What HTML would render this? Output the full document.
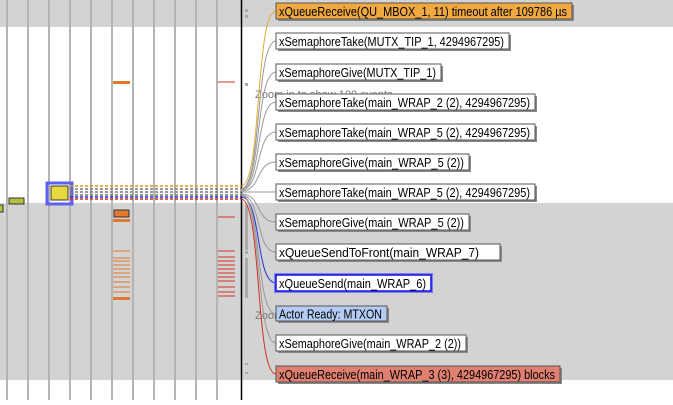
<!DOCTYPE html>
<html><head><style>
body{margin:0;width:673px;height:400px;overflow:hidden;background:#fff;font-family:"Liberation Sans",sans-serif}
</style></head><body>
<svg width="673" height="400" xmlns="http://www.w3.org/2000/svg" font-family="Liberation Sans, sans-serif">
<rect x="0" y="0" width="673" height="27" fill="#d3d3d3"/>
<rect x="0" y="203" width="673" height="177" fill="#d3d3d3"/>
<g stroke="#b4b4b4" stroke-width="2">
<line x1="7" y1="0" x2="7" y2="400"/><line x1="28" y1="0" x2="28" y2="400"/><line x1="49" y1="0" x2="49" y2="400"/><line x1="70" y1="0" x2="70" y2="400"/><line x1="91" y1="0" x2="91" y2="400"/><line x1="112" y1="0" x2="112" y2="400"/><line x1="133" y1="0" x2="133" y2="400"/><line x1="154" y1="0" x2="154" y2="400"/><line x1="175" y1="0" x2="175" y2="400"/><line x1="196" y1="0" x2="196" y2="400"/><line x1="217" y1="0" x2="217" y2="400"/>
</g>
<line x1="241.5" y1="0" x2="241.5" y2="400" stroke="#000" stroke-width="1.5"/>
<rect x="-1" y="205" width="4" height="7" fill="#b5c040" stroke="#333"/>
<rect x="9" y="198" width="15" height="6" fill="#b5c040" stroke="#333"/>
<rect x="47" y="183" width="25" height="21" fill="none" stroke="#6060f0" stroke-width="3"/>
<rect x="51" y="186" width="17" height="14" fill="#e8d840" stroke="#333"/>
<rect x="113" y="81" width="17" height="3" fill="#e07830"/>
<line x1="218" y1="82" x2="235" y2="82" stroke="#d03020"/>
<rect x="114" y="210" width="15" height="7" fill="#e07830" stroke="#333"/>
<rect x="113" y="219" width="17" height="3" fill="#e07830"/>
<line x1="218" y1="217" x2="235" y2="217" stroke="#d03020"/>
<g stroke="#e07830">
<line x1="113" y1="251" x2="130" y2="251"/><line x1="113" y1="258" x2="130" y2="258"/><line x1="113" y1="261" x2="130" y2="261"/><line x1="113" y1="265" x2="130" y2="265"/><line x1="113" y1="269" x2="130" y2="269"/><line x1="113" y1="273" x2="130" y2="273"/><line x1="113" y1="277" x2="130" y2="277"/><line x1="113" y1="282" x2="130" y2="282"/><line x1="113" y1="287" x2="130" y2="287"/><line x1="113" y1="292" x2="130" y2="292"/>
</g>
<rect x="113" y="297" width="17" height="3" fill="#e07830"/>
<g stroke="#d03020">
<line x1="218" y1="251" x2="235" y2="251"/><line x1="218" y1="257" x2="235" y2="257"/><line x1="218" y1="261" x2="235" y2="261"/><line x1="218" y1="265" x2="235" y2="265"/><line x1="218" y1="269" x2="235" y2="269"/><line x1="218" y1="273" x2="235" y2="273"/><line x1="218" y1="277" x2="235" y2="277"/><line x1="218" y1="281" x2="235" y2="281"/><line x1="218" y1="287" x2="235" y2="287"/><line x1="218" y1="292" x2="235" y2="292"/><line x1="218" y1="296" x2="235" y2="296"/>
</g>
<g fill="#aaa">
<rect x="245" y="9" width="3" height="3"/><rect x="245" y="15" width="3" height="3"/><rect x="245" y="83" width="3" height="3"/>
<rect x="245" y="205" width="3" height="45"/><rect x="245" y="251" width="3" height="3"/><rect x="245" y="258" width="3" height="40"/>
<rect x="245" y="363" width="3" height="2"/><rect x="245" y="372" width="3" height="2"/>
</g>
<text x="255" y="98" font-size="11" fill="#777">Zoom in to show 100 events</text>
<text x="255" y="319" font-size="11" fill="#777">Zoom in to show events</text>
<g stroke-width="1.5" stroke-dasharray="3,2" fill="none">
<line x1="70" y1="186" x2="241" y2="186" stroke="#e09020"/>
<line x1="70" y1="189" x2="241" y2="189" stroke="#777"/>
<line x1="70" y1="192" x2="241" y2="192" stroke="#777"/>
<line x1="70" y1="195" x2="241" y2="195" stroke="#777"/>
<line x1="70" y1="197" x2="241" y2="197" stroke="#2030e0"/>
<line x1="70" y1="199" x2="241" y2="199" stroke="#d03020"/>
</g>
<g fill="none" stroke-width="1">
<path d="M241,186 C262,186 255,11 276,11" stroke="#e8a830"/>
<path d="M241,189 C262,189 255,41 276,41" stroke="#999"/>
<path d="M241,189 C262,189 255,72 276,72" stroke="#999"/>
<path d="M241,190 C262,190 255,102 276,102" stroke="#999"/>
<path d="M241,190 C262,190 255,132 276,132" stroke="#999"/>
<path d="M241,191 C262,191 255,162 276,162" stroke="#999"/>
<path d="M241,192 C262,192 255,192 276,192" stroke="#999"/>
<path d="M241,194 C262,194 255,222 276,222" stroke="#999"/>
<path d="M241,195 C262,195 255,252 276,252" stroke="#999"/>
<path d="M241,197 C262,197 255,283 276,283" stroke="#2030e0"/>
<path d="M241,195 C262,195 255,314 276,314" stroke="#999"/>
<path d="M241,195 C262,195 255,343 276,343" stroke="#999"/>
<path d="M241,199 C262,199 255,374 276,374" stroke="#d03020"/>
</g>
<g font-size="12.5" fill="#000">
<g><rect x="278" y="5" width="296" height="16" fill="#888"/><rect x="276" y="3" width="296" height="16" fill="#f0a840" stroke="#555"/><text x="279" y="16" textLength="288" lengthAdjust="spacingAndGlyphs">xQueueReceive(QU_MBOX_1, 11) timeout after 109786 µs</text></g>
<g><rect x="278" y="35" width="233" height="16" fill="#888"/><rect x="276" y="33" width="233" height="16" fill="#fff" stroke="#555"/><text x="279" y="46" textLength="225" lengthAdjust="spacingAndGlyphs">xSemaphoreTake(MUTX_TIP_1, 4294967295)</text></g>
<g><rect x="278" y="66" width="165" height="16" fill="#888"/><rect x="276" y="64" width="165" height="16" fill="#fff" stroke="#555"/><text x="279" y="77" textLength="157" lengthAdjust="spacingAndGlyphs">xSemaphoreGive(MUTX_TIP_1)</text></g>
<g><rect x="278" y="96" width="259" height="16" fill="#888"/><rect x="276" y="94" width="259" height="16" fill="#fff" stroke="#555"/><text x="279" y="107" textLength="251" lengthAdjust="spacingAndGlyphs">xSemaphoreTake(main_WRAP_2 (2), 4294967295)</text></g>
<g><rect x="278" y="126" width="259" height="16" fill="#888"/><rect x="276" y="124" width="259" height="16" fill="#fff" stroke="#555"/><text x="279" y="137" textLength="251" lengthAdjust="spacingAndGlyphs">xSemaphoreTake(main_WRAP_5 (2), 4294967295)</text></g>
<g><rect x="278" y="156" width="193" height="16" fill="#888"/><rect x="276" y="154" width="193" height="16" fill="#fff" stroke="#555"/><text x="279" y="167" textLength="185" lengthAdjust="spacingAndGlyphs">xSemaphoreGive(main_WRAP_5 (2))</text></g>
<g><rect x="278" y="186" width="259" height="16" fill="#888"/><rect x="276" y="184" width="259" height="16" fill="#fff" stroke="#555"/><text x="279" y="197" textLength="251" lengthAdjust="spacingAndGlyphs">xSemaphoreTake(main_WRAP_5 (2), 4294967295)</text></g>
<g><rect x="278" y="216" width="193" height="16" fill="#888"/><rect x="276" y="214" width="193" height="16" fill="#fff" stroke="#555"/><text x="279" y="227" textLength="185" lengthAdjust="spacingAndGlyphs">xSemaphoreGive(main_WRAP_5 (2))</text></g>
<g><rect x="278" y="246" width="224" height="16" fill="#888"/><rect x="276" y="244" width="224" height="16" fill="#fff" stroke="#555"/><text x="279" y="257" textLength="200" lengthAdjust="spacingAndGlyphs">xQueueSendToFront(main_WRAP_7)</text></g>
<g><rect x="274" y="273" width="159" height="20" fill="#8080f0"/><rect x="276" y="275" width="155" height="16" fill="#fff" stroke="#1010e0" stroke-width="1.5"/><text x="279" y="288" textLength="147" lengthAdjust="spacingAndGlyphs">xQueueSend(main_WRAP_6)</text></g>
<g><rect x="278" y="308" width="111" height="15" fill="#888"/><rect x="276" y="306" width="111" height="15" fill="#b4ccf4" stroke="#555"/><text x="279" y="318.5" textLength="103" lengthAdjust="spacingAndGlyphs">Actor Ready: MTXON</text></g>
<g><rect x="278" y="337" width="190" height="16" fill="#888"/><rect x="276" y="335" width="190" height="16" fill="#fff" stroke="#555"/><text x="279" y="348" textLength="182" lengthAdjust="spacingAndGlyphs">xSemaphoreGive(main_WRAP_2 (2))</text></g>
<g><rect x="278" y="368" width="284" height="16" fill="#888"/><rect x="276" y="366" width="284" height="16" fill="#e08070" stroke="#555"/><text x="279" y="379" textLength="276" lengthAdjust="spacingAndGlyphs">xQueueReceive(main_WRAP_3 (3), 4294967295) blocks</text></g>
</g>
</svg>
</body></html>
